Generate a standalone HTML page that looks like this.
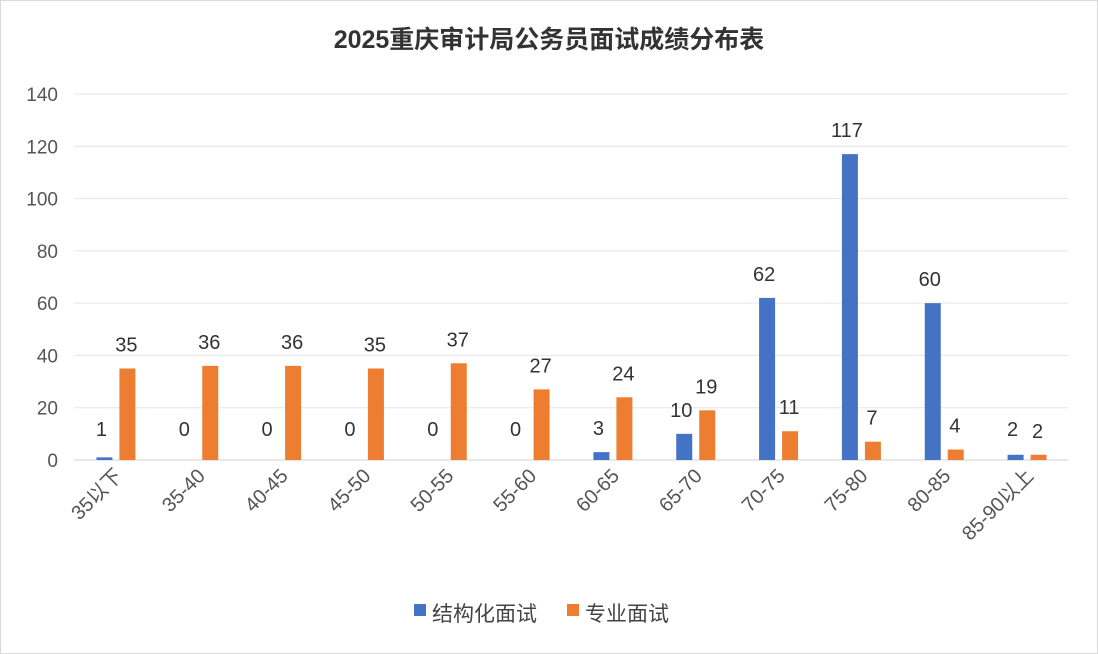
<!DOCTYPE html>
<html><head><meta charset="utf-8">
<style>
body{margin:0;background:#fff;}
svg{display:block;font-family:"Liberation Sans","Noto Sans CJK SC",sans-serif;}
</style></head>
<body>
<svg id="chart" width="1098" height="654" viewBox="0 0 1098 654">
<rect x="0.5" y="0.5" width="1097" height="653" fill="#fff" stroke="#d9d9d9"/>
<text x="549" y="48" text-anchor="middle" font-size="25" font-weight="bold" fill="#333">2025重庆审计局公务员面试成绩分布表</text>
<g id="grid"></g><g id="bars"></g><g id="xlabels"></g>
<g>
<rect x="414" y="604" width="12" height="12" fill="#4472C4"/>
<text x="432" y="621" font-size="21" fill="#444">结构化面试</text>
<rect x="567" y="604" width="12" height="12" fill="#ED7D31"/>
<text x="585" y="621" font-size="21" fill="#444">专业面试</text>
</g>
</svg>
<script>
const categories=["35以下","35-40","40-45","45-50","50-55","55-60","60-65","65-70","70-75","75-80","80-85","85-90以上"];
const structured=[1,0,0,0,0,0,3,10,62,117,60,2];
const professional=[35,36,36,35,37,27,24,19,11,7,4,2];
const yTicks=[0,20,40,60,80,100,120,140];
const NS="http://www.w3.org/2000/svg";
const L=74,R=1068,T=94,B=460,yMax=140;
const band=(R-L)/categories.length;
const y=v=>B-(v/yMax)*(B-T);
const cx=i=>L+band*(i+0.5);
function mk(tag,attrs,parent,txt){const e=document.createElementNS(NS,tag);for(const k in attrs)e.setAttribute(k,attrs[k]);if(txt!==undefined)e.textContent=txt;parent.appendChild(e);return e;}
const grid=document.getElementById('grid'),bars=document.getElementById('bars'),xl=document.getElementById('xlabels');
yTicks.forEach(t=>{
 const l=mk('line',{x1:L,x2:R,y1:y(t),y2:y(t),stroke:t===0?'#d0d0d0':'#e6e6e6','stroke-width':1},grid);
 
 
 const tx=mk('text',{x:58,y:y(t)+7,'text-anchor':'end','font-size':19,fill:'#555'},grid,t);
 
 
});
categories.forEach((c,i)=>{
 const c0=cx(i);
 const bv=structured[i],pv=professional[i];
 const b=mk('rect',{x:c0-19,y:y(bv),width:16,height:B-y(bv),fill:'#4472C4'},bars);
 
 
 const o=mk('rect',{x:c0+4,y:y(pv),width:16,height:B-y(pv),fill:'#ED7D31'},bars);
 
 
 const lb=mk('text',{x:c0-14,y:Math.min(y(bv)-17,y(0)-24),'text-anchor':'middle','font-size':20,fill:'#333'},bars,bv);
 
 
 const lo=mk('text',{x:c0+11,y:y(pv)-17,'text-anchor':'middle','font-size':20,fill:'#333'},bars,pv);
 
 
 const tx=mk('text',{x:0,y:0,'text-anchor':'end','font-size':20,fill:'#555',transform:`translate(${c0+8},${B+17}) rotate(-45)`},xl,c);
 
 
});
</script>
</body></html>
